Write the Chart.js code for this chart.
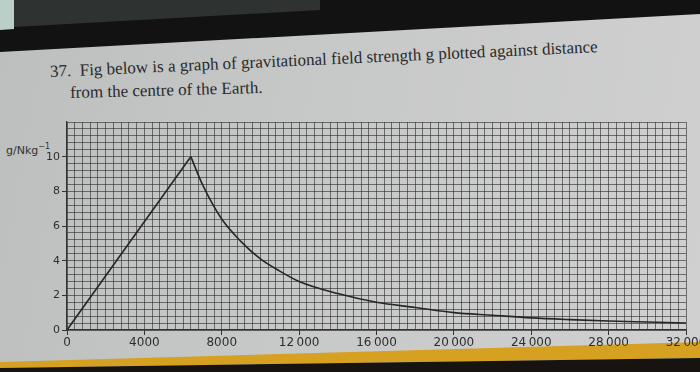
<!DOCTYPE html>
<html>
<head>
<meta charset="utf-8">
<script src="https://cdn.jsdelivr.net/npm/chart.js@4"></script>
<style>
  html, body { margin: 0; padding: 0; }
  body {
    width: 700px; height: 372px; overflow: hidden; position: relative;
    background: linear-gradient(100deg, #bdbebe 0%, #c7c8c8 45%, #d0d0d0 100%);
    font-family: "Liberation Serif", serif;
  }
  .band { position: absolute; left: 0; top: 0; width: 700px; height: 372px; }
  #topdark { background: #121212; clip-path: polygon(0 0, 700px 0, 700px 14px, 0 52px); }
  #topgray { background: #2e3331; clip-path: polygon(14px 0, 320px 0, 320px 10px, 14px 27px); }
  #teal { background: #b9cfc7; clip-path: polygon(0 0, 14px 0, 14px 29px, 0 30px); }
  #yellow { background: #d6a021; clip-path: polygon(0 362px, 700px 342px, 700px 358px, 0 368px); }
  #botdark { background: #161310; clip-path: polygon(0 368px, 700px 358px, 700px 372px, 0 372px); }
  .q { position: absolute; color: #2a2a2a; font-size: 17px; white-space: nowrap; transform-origin: 0 50%; }
  #ylabel { position: absolute; left: 6px; top: 142px; font: 11px "DejaVu Sans", sans-serif; color: #333; }
  #chart { position: absolute; left: 0; top: 0; }
</style>
</head>
<body>
<div class="band" id="topdark"></div>
<div class="band" id="topgray"></div>
<div class="band" id="teal"></div>
<div class="band" id="yellow"></div>
<div class="band" id="botdark"></div>

<div class="q" style="left:50px; top:62px; transform: rotate(-2.6deg);">37.&nbsp; Fig below is a graph of gravitational field strength g plotted against distance</div>
<div class="q" style="left:70px; top:83px; transform: rotate(-1.5deg);">from the centre of the Earth.</div>
<div id="ylabel">g/Nkg<sup style="font-size:8px">−1</sup></div>

<canvas id="chart" width="700" height="372"></canvas>

<script>
// distance from centre of Earth (km) and g (N/kg)
var riseDistance = [0, 6400]
var riseG = [0, 10]

var fallDistance = [6400, 7000, 8000, 9000, 10000, 11000, 12000, 14000, 16000, 18000, 20000, 22000, 24000, 26000, 28000, 30000, 32000]
var fallG = [10, 8.4, 6.4, 5.1, 4.1, 3.4, 2.8, 2.1, 1.6, 1.3, 1.0, 0.85, 0.7, 0.6, 0.52, 0.46, 0.4]

var xLabels = [0, 4000, 8000, 12000, 16000, 20000, 24000, 28000, 32000]
var yLabels = [0, 2, 4, 6, 8, 10]

function toPoints(xs, ys) {
  return xs.map(function (x, i) { return { x: x, y: ys[i] } })
}

function near(v, list, eps) {
  return list.some(function (l) { return Math.abs(v - l) < eps })
}

function fmtX(v) {
  if (v < 10000) return String(v)
  var s = String(v)
  return s.slice(0, s.length - 3) + '\u2009' + s.slice(-3)
}

var gridColor = 'rgba(45,45,45,0.62)'

new Chart(document.getElementById('chart'), {
  type: 'scatter',
  data: {
    datasets: [{
      data: toPoints(riseDistance, riseG),
      showLine: true,
      borderColor: '#262626',
      borderWidth: 1.6,
      pointRadius: 0,
      tension: 0
    }, {
      data: toPoints(fallDistance, fallG),
      showLine: true,
      borderColor: '#262626',
      borderWidth: 1.6,
      pointRadius: 0,
      cubicInterpolationMode: 'monotone'
    }]
  },
  options: {
    responsive: false,
    animation: false,
    layout: { padding: { top: 122, right: 14, left: 0, bottom: 0 } },
    plugins: { legend: { display: false }, tooltip: { enabled: false } },
    scales: {
      x: {
        type: 'linear',
        min: 0,
        max: 32000,
        afterFit: function (scale) {
          scale.height = 42
          scale.paddingLeft = 0
          scale.paddingRight = 0
        },
        border: { color: '#333', width: 1.2 },
        grid: {
          color: gridColor,
          lineWidth: 1,
          tickLength: 5,
          tickColor: function (ctx) {
            return ctx.tick && near(ctx.tick.value, xLabels, 1) ? '#333' : 'transparent'
          }
        },
        ticks: {
          stepSize: 400,
          maxTicksLimit: 200,
          autoSkip: false,
          maxRotation: 0,
          padding: 1,
          color: '#2e2e2e',
          font: { family: 'DejaVu Sans', size: 12 },
          callback: function (v) { return near(v, xLabels, 1) ? fmtX(Math.round(v)) : '' }
        }
      },
      y: {
        min: 0,
        max: 12,
        afterFit: function (scale) { scale.width = 67 },
        border: { color: '#333', width: 1.2 },
        grid: {
          color: gridColor,
          lineWidth: 1,
          tickLength: 5,
          tickColor: function (ctx) {
            return ctx.tick && near(ctx.tick.value, yLabels, 0.01) ? '#333' : 'transparent'
          }
        },
        ticks: {
          stepSize: 0.4,
          maxTicksLimit: 200,
          autoSkip: false,
          padding: 2,
          color: '#2e2e2e',
          font: { family: 'DejaVu Sans', size: 11 },
          callback: function (v) { return near(v, yLabels, 0.01) ? String(Math.round(v)) : '' }
        }
      }
    }
  }
});
</script>
</body>
</html>
